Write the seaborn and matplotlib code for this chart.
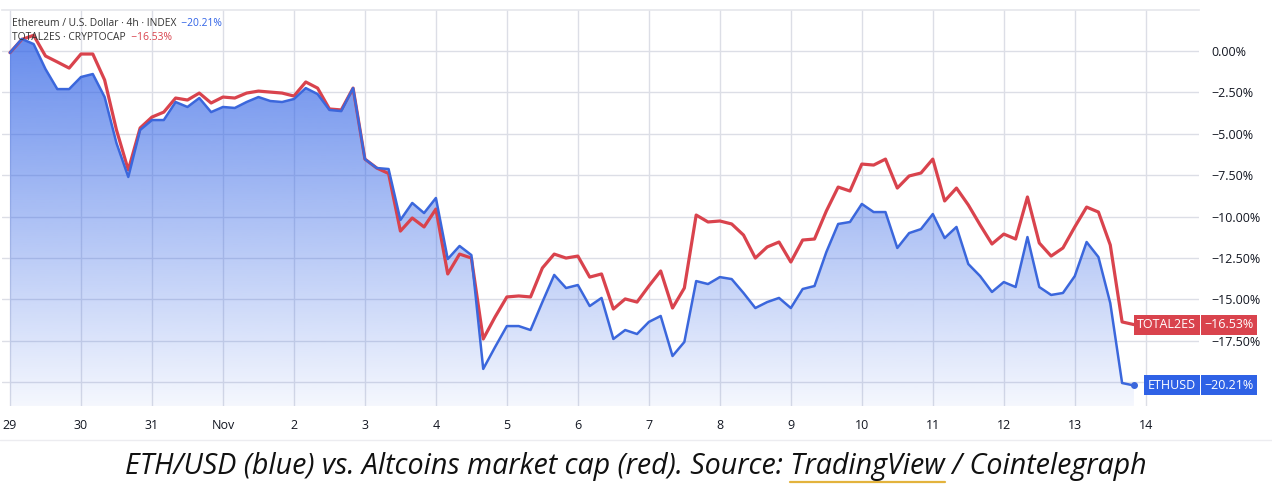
"""ETH/USD vs TOTAL2ES (altcoin market cap), % change on 4h candles."""

import numpy as np
import pandas as pd
import matplotlib
matplotlib.use("Agg")
import matplotlib.pyplot as plt
import matplotlib.dates as mdates
from matplotlib.lines import Line2D
from matplotlib.colors import to_rgb
import seaborn as sns

# ── Data ──────────────────────────────────────────────────
times = pd.date_range("2022-10-29 00:00", periods=96, freq="4h")

eth_pct = [
    -0.10, 0.73, 0.42, -1.09, -2.30, -2.30, -1.57, -1.39, -2.78, -5.56,
    -7.61, -4.77, -4.17, -4.17, -3.08, -3.38, -2.84, -3.69, -3.38, -3.44,
    -3.08, -2.78, -3.02, -3.08, -2.90, -2.24, -2.60, -3.56, -3.63, -2.24,
    -6.53, -7.07, -7.13, -10.21, -9.18, -9.79, -8.88, -12.57, -11.78, -12.33,
    -19.21, -17.89, -16.62, -16.62, -16.86, -15.17, -13.53, -14.32, -14.14, -15.41,
    -14.92, -17.40, -16.86, -17.10, -16.37, -16.01, -18.43, -17.58, -13.90, -14.08,
    -13.66, -13.78, -14.62, -15.53, -15.17, -14.92, -15.53, -14.38, -14.20, -12.15,
    -10.45, -10.33, -9.24, -9.73, -9.73, -11.90, -11.00, -10.76, -9.85, -11.30,
    -10.63, -12.87, -13.60, -14.56, -13.96, -14.26, -11.24, -14.26, -14.74, -14.62,
    -13.60, -11.54, -12.45, -15.23, -20.06, -20.21,
]

total2es_pct = [
    -0.10, 0.70, 0.95, -0.30, -0.66, -1.03, -0.18, -0.18, -1.75, -4.77,
    -7.19, -4.65, -3.99, -3.69, -2.84, -2.96, -2.54, -3.14, -2.78, -2.84,
    -2.54, -2.42, -2.48, -2.54, -2.72, -1.87, -2.24, -3.50, -3.56, -2.24,
    -6.53, -7.07, -7.40, -10.88, -10.09, -10.63, -9.55, -13.47, -12.27, -12.51,
    -17.40, -16.07, -14.86, -14.80, -14.86, -13.11, -12.27, -12.51, -12.39, -13.66,
    -13.47, -15.59, -14.98, -15.17, -14.20, -13.29, -15.53, -14.32, -9.91, -10.33,
    -10.27, -10.45, -11.12, -12.51, -11.84, -11.54, -12.75, -11.42, -11.36, -9.67,
    -8.22, -8.46, -6.83, -6.89, -6.53, -8.28, -7.55, -7.37, -6.53, -9.06,
    -8.28, -9.30, -10.51, -11.66, -11.06, -11.36, -8.82, -11.60, -12.39, -11.90,
    -10.63, -9.43, -9.73, -11.72, -16.37, -16.53,
]

day_ticks = pd.date_range("2022-10-29", "2022-11-14", freq="D")
day_labels = ["29", "30", "31", "Nov", "2", "3", "4", "5", "6", "7",
              "8", "9", "10", "11", "12", "13", "14"]

pct_ticks = [0, -2.5, -5, -7.5, -10, -12.5, -15, -17.5, -20]
pct_labels = ["0.00%", "\u22122.50%", "\u22125.00%", "\u22127.50%", "\u221210.00%",
              "\u221212.50%", "\u221215.00%", "\u221217.50%", ""]

eth_name, eth_last = "ETHUSD", "\u221220.21%"
alt_name, alt_last = "TOTAL2ES", "\u221216.53%"
legend_eth = "Ethereum / U.S. Dollar \u00b7 4h \u00b7 INDEX"
legend_alt = "TOTAL2ES \u00b7 CRYPTOCAP"
caption_pre = "ETH/USD (blue) vs. Altcoins market cap (red). Source: "
caption_link = "TradingView"
caption_post = " / Cointelegraph"

BLUE = "#2f62e6"
LINE_BLUE = "#3b67dc"
RED = "#d9434d"
TXT = "#131722"

# ── Plot ──────────────────────────────────────────────────
sns.set_theme(style="white")
plt.rcParams["font.family"] = ["Open Sans", "DejaVu Sans"]

df = pd.DataFrame({"time": times, "eth": eth_pct, "alt": total2es_pct})

fig = plt.figure(figsize=(12.72, 4.86), dpi=100)
ax = fig.add_axes([2 / 1272, 80 / 486, 1197 / 1272, 396 / 486])

y_bottom, y_top = -21.45, 2.48
x_left = times[0] - pd.Timedelta(hours=2.7)
x_right = times[0] + pd.Timedelta(days=16.75)

# gradient area under ETH line
fill = ax.fill_between(df["time"], df["eth"], y_bottom, color="none", lw=0)
alpha = np.linspace(0.05, 0.74, 256)[:, None]
rgba = np.zeros((256, 1, 4))
rgba[..., :3] = to_rgb(BLUE)
rgba[..., 3] = alpha
x0, x1 = mdates.date2num(times[0]), mdates.date2num(times[-1])
im = ax.imshow(rgba, extent=[x0, x1, y_bottom, 1.0], origin="lower",
               aspect="auto", interpolation="bilinear", zorder=1)
im.set_clip_path(fill.get_paths()[0], transform=ax.transData)

sns.lineplot(data=df, x="time", y="alt", color=RED, lw=2.3, ax=ax, zorder=3)
sns.lineplot(data=df, x="time", y="eth", color=LINE_BLUE, lw=1.8, ax=ax, zorder=4)
ax.plot(times[-1], eth_pct[-1], "o", color=LINE_BLUE, ms=4, zorder=5)

ax.set_xlim(x_left, x_right)
ax.set_ylim(y_bottom, y_top)
ax.set_xticks(day_ticks)
ax.set_xticklabels(day_labels)
ax.set_yticks(pct_ticks)
ax.set_yticklabels(pct_labels)
ax.yaxis.tick_right()
ax.tick_params(axis="both", length=0, labelsize=9, colors=TXT)
ax.tick_params(axis="x", pad=9)
ax.tick_params(axis="y", pad=9)
ax.set_xlabel("")
ax.set_ylabel("")
ax.set_axisbelow(True)
ax.grid(True, color="#dcdee6", lw=1, zorder=0)
for s in ["left", "right", "bottom"]:
    ax.spines[s].set_visible(False)
ax.spines["top"].set_color("#e6e7ec")

# last-value labels on the price scale
box = dict(boxstyle="square,pad=0.28", lw=0)
for val, name, last, c in [(total2es_pct[-1], alt_name, alt_last, RED),
                           (eth_pct[-1], eth_name, eth_last, BLUE)]:
    ax.text(0.9975, val, name, transform=ax.get_yaxis_transform(), ha="right",
            va="center", fontsize=9, color="white", bbox={**box, "fc": c},
            clip_on=False, zorder=6)
    ax.text(1.0045, val, last, transform=ax.get_yaxis_transform(), ha="left",
            va="center", fontsize=9, color="white", bbox={**box, "fc": c},
            clip_on=False, zorder=6)

# series legend, top-left
t1 = fig.text(12 / 1272, 1 - 23 / 486, legend_eth, fontsize=7.4, color="#333",
              va="center", ha="left", zorder=7)
ax.annotate("  " + eth_last, xy=(1, 0.5), xycoords=t1, va="center", ha="left",
            fontsize=7.4, color=BLUE)
t2 = fig.text(12 / 1272, 1 - 37 / 486, legend_alt, fontsize=7.4, color="#333",
              va="center", ha="left", zorder=7)
ax.annotate("  " + alt_last, xy=(1, 0.5), xycoords=t2, va="center", ha="left",
            fontsize=7.4, color=RED)

# panel bottom edge
fig.add_artist(Line2D([0, 1], [1 - 440 / 486] * 2, color="#ececf0", lw=1))

# caption with underlined link
cap_kw = dict(fontsize=20.6, style="italic", color="#111111", va="center")
caption = caption_pre + caption_link + caption_post
cap = fig.text(0.5, 1 - 466 / 486, caption, ha="center", **cap_kw)
fig.canvas.draw()
r = fig.canvas.get_renderer()


def text_width(s):
    t = fig.text(0, 0, s, **cap_kw)
    w = t.get_window_extent(r).width
    t.remove()
    return w


cb = cap.get_window_extent(r)
end_px = cb.x0 + text_width(caption_pre + caption_link)
start_px = end_px - text_width(caption_link)
fig.add_artist(Line2D([start_px / 1272, end_px / 1272], [1 - 482 / 486] * 2,
                      color="#e3b33c", lw=1.6))

fig.savefig("out.png", dpi=100)
